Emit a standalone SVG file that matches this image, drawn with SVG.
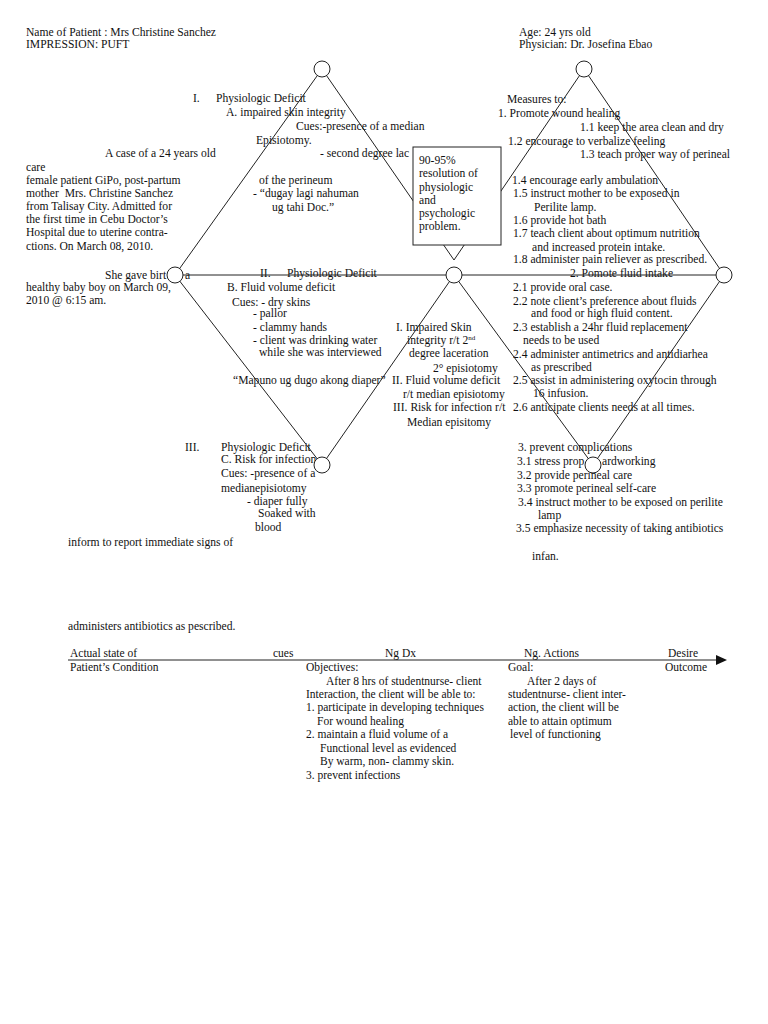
<svg xmlns="http://www.w3.org/2000/svg" width="768" height="1024" viewBox="0 0 768 1024">
<style>
text{font-family:"Liberation Serif","Times New Roman",serif;font-size:11.6px;fill:#111;white-space:pre}
.s{font-size:11.5px}
.ln{stroke:#222;stroke-width:1;fill:none}
.nd{fill:#fff;stroke:#222;stroke-width:1}
</style>
<rect width="768" height="1024" fill="#fff"/>
<g id="header">
<text x="26" y="36">Name of Patient : Mrs Christine Sanchez</text>
<text x="26" y="48">IMPRESSION: PUFT</text>
<text x="519" y="36">Age: 24 yrs old</text>
<text x="519" y="48">Physician: Dr. Josefina Ebao</text>
</g>
<g id="text-left-top">
<text x="193" y="102">I.</text>
<text x="216" y="102">Physiologic Deficit</text>
<text x="226" y="116">A. impaired skin integrity</text>
<text x="296" y="130">Cues:-presence of a median</text>
<text x="256" y="144">Episiotomy.</text>
<text x="105" y="157">A case of a 24 years old</text>
<text x="320" y="157">- second degree lac</text>
<text x="26" y="171">care</text>
<text x="26" y="184">female patient GiPo, post-partum</text>
<text x="26" y="197">mother  Mrs. Christine Sanchez</text>
<text x="26" y="210">from Talisay City. Admitted for</text>
<text x="26" y="223">the first time in Cebu Doctor’s</text>
<text x="26" y="236">Hospital due to uterine contra-</text>
<text x="26" y="250">ctions. On March 08, 2010.</text>
<text x="259" y="184">of the perineum</text>
<text x="253" y="197">- “dugay lagi nahuman</text>
<text x="272" y="211">ug tahi Doc.”</text>
</g>
<g id="text-right-top">
<text x="507" y="103">Measures to:</text>
<text x="498" y="117">1. Promote wound healing</text>
<text x="580" y="131">1.1 keep the area clean and dry</text>
<text x="508" y="145">1.2 encourage to verbalize feeling</text>
<text x="580" y="158">1.3 teach proper way of perineal</text>
<text x="512" y="184">1.4 encourage early ambulation</text>
<text x="513" y="197">1.5 instruct mother to be exposed in</text>
<text x="534" y="211">Perilite lamp.</text>
<text x="513" y="224">1.6 provide hot bath</text>
<text x="513" y="237">1.7 teach client about optimum nutrition</text>
<text x="532" y="251">and increased protein intake.</text>
<text x="513" y="263">1.8 administer pain reliever as prescribed.</text>
</g>
<g id="text-middle-left">
<text x="105" y="279">She gave birt</text>
<text x="185" y="279">a</text>
<text x="26" y="291">healthy baby boy on March 09,</text>
<text x="26" y="304">2010 @ 6:15 am.</text>
<text x="260" y="277">II.</text>
<text x="287" y="277">Physiologic Deficit</text>
<text x="227" y="291">B. Fluid volume deficit</text>
<text x="232" y="306">Cues: - dry skins</text>
<text x="253" y="317">- pallor</text>
<text x="253" y="331">- clammy hands</text>
<text x="253" y="344">- client was drinking water</text>
<text x="259" y="356">while she was interviewed</text>
<text x="233" y="384">“Mapuno ug dugo akong diaper”</text>
</g>
<g id="text-center">
<text x="396" y="331">I. Impaired Skin</text>
<text x="407" y="344">integrity r/t 2<tspan font-size="7" dy="-4">nd</tspan></text>
<text x="409" y="357">degree laceration</text>
<text x="433" y="372">2° episiotomy</text>
<text x="392" y="384">II. Fluid volume deficit</text>
<text x="403" y="398">r/t median episiotomy</text>
<text x="393" y="411">III. Risk for infection r/t</text>
<text x="407" y="426">Median episitomy</text>
</g>
<g id="text-middle-right">
<text x="570" y="277">2. Pomote fluid intake</text>
<text x="513" y="291">2.1 provide oral case.</text>
<text x="513" y="305">2.2 note client’s preference about fluids</text>
<text x="531" y="317">and food or high fluid content.</text>
<text x="513" y="331">2.3 establish a 24hr fluid replacement</text>
<text x="523" y="344">needs to be used</text>
<text x="513" y="358">2.4 administer antimetrics and antidiarhea</text>
<text x="531" y="371">as prescribed</text>
<text x="513" y="384">2.5 assist in administering oxytocin through</text>
<text x="533" y="397">16 infusion.</text>
<text x="513" y="411">2.6 anticipate clients needs at all times.</text>
</g>
<g id="text-bottom-left">
<text x="185" y="451">III.</text>
<text x="221" y="451">Physiologic Deficit</text>
<text x="221" y="463">C. Risk for infection</text>
<text x="221" y="477">Cues: -presence of a</text>
<text x="221" y="492">medianepisiotomy</text>
<text x="247" y="505">- diaper fully</text>
<text x="258" y="517">Soaked with</text>
<text x="255" y="531">blood</text>
<text x="68" y="546">inform to report immediate signs of</text>
<text x="68" y="630">administers antibiotics as pescribed.</text>
</g>
<g id="text-bottom-right">
<text x="518" y="451">3. prevent complications</text>
<text x="517" y="465">3.1 stress prop</text>
<text x="602" y="465">ardworking</text>
<text x="517" y="479">3.2 provide perineal care</text>
<text x="517" y="492">3.3 promote perineal self-care</text>
<text x="518" y="506">3.4 instruct mother to be exposed on perilite</text>
<text x="538" y="519">lamp</text>
<text x="516" y="532">3.5 emphasize necessity of taking antibiotics</text>
<text x="532" y="560">infan.</text>
</g>
<g id="connectors">
<line class="ln" x1="322" y1="69" x2="175" y2="275"/>
<line class="ln" x1="322" y1="69" x2="454" y2="260"/>
<line class="ln" x1="584" y1="69" x2="454" y2="260"/>
<line class="ln" x1="584" y1="69" x2="724" y2="275"/>
<line class="ln" x1="175" y1="275" x2="724" y2="275"/>
<line class="ln" x1="175" y1="275" x2="322" y2="465"/>
<line class="ln" x1="454" y1="275" x2="322" y2="465"/>
<line class="ln" x1="454" y1="275" x2="593" y2="465"/>
<line class="ln" x1="724" y1="275" x2="593" y2="465"/>
</g>
<g id="box-outcome">
<rect class="nd" x="413" y="147" width="88" height="98"/>
<text x="419" y="164">90-95%</text>
<text x="419" y="177">resolution of</text>
<text x="419" y="191">physiologic</text>
<text x="419" y="204">and</text>
<text x="419" y="217">psychologic</text>
<text x="419" y="230">problem.</text>
</g>
<g id="node-top-left"><circle class="nd" cx="322" cy="69" r="8"/></g>
<g id="node-top-right"><circle class="nd" cx="584" cy="69" r="8"/></g>
<g id="node-left"><circle class="nd" cx="175" cy="275" r="8"/></g>
<g id="node-center"><circle class="nd" cx="454" cy="275" r="8"/></g>
<g id="node-right"><circle class="nd" cx="724" cy="275" r="8"/></g>
<g id="node-bottom-left"><circle class="nd" cx="322" cy="465" r="8"/></g>
<g id="node-bottom-right"><circle class="nd" cx="593" cy="465" r="8"/></g>
<g id="timeline">
<line class="ln" x1="68" y1="660" x2="717" y2="660"/>
<polygon points="716,655 727,660 716,665" fill="#111"/>
<text class="s" x="70" y="657">Actual state of</text>
<text class="s" x="273" y="657">cues</text>
<text class="s" x="385" y="657">Ng Dx</text>
<text class="s" x="524" y="657">Ng. Actions</text>
<text class="s" x="668" y="657">Desire</text>
<text class="s" x="70" y="671">Patient’s Condition</text>
<text class="s" x="306" y="671">Objectives:</text>
<text class="s" x="508" y="671">Goal:</text>
<text class="s" x="665" y="671">Outcome</text>
<text class="s" x="326" y="685">After 8 hrs of studentnurse- client</text>
<text class="s" x="527" y="685">After 2 days of</text>
<text class="s" x="306" y="698">Interaction, the client will be able to:</text>
<text class="s" x="508" y="698">studentnurse- client inter-</text>
<text class="s" x="306" y="711">1. participate in developing techniques</text>
<text class="s" x="508" y="711">action, the client will be</text>
<text class="s" x="317" y="725">For wound healing</text>
<text class="s" x="508" y="725">able to attain optimum</text>
<text class="s" x="306" y="738">2. maintain a fluid volume of a</text>
<text class="s" x="510" y="738">level of functioning</text>
<text class="s" x="320" y="752">Functional level as evidenced</text>
<text class="s" x="320" y="765">By warm, non- clammy skin.</text>
<text class="s" x="306" y="779">3. prevent infections</text>
</g>
</svg>
